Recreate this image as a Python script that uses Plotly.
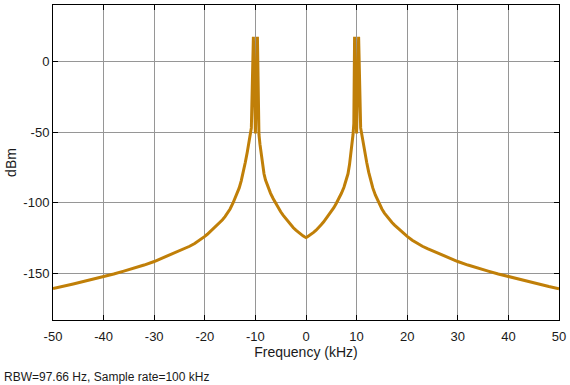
import plotly.graph_objects as go

# Frequency (kHz) and level (dBm), left half (-50 .. 0)
freq_left = [
    -50, -48, -46, -44, -42, -40, -38, -36, -34, -32, -30, -29, -28, -27, -26, -25,
    -24, -23, -22, -21, -20, -19.5, -19, -18.5, -18, -17.5, -17, -16.5, -16, -15.5,
    -15, -14.4, -13.7, -13.2, -12.8, -12.4, -12, -11.6, -11.3, -11, -10.8,
    -10.4, -10.0, -9.6,
    -9.45, -9.3, -9.1, -8.9, -8.6, -8.3, -8, -7.5, -7, -6.5, -6, -5.5, -5, -4.5,
    -4, -3.5, -3, -2.5, -2, -1.5, -1, -0.6, -0.3,
]
level_left = [
    -160.7, -159.3, -157.5, -155.8, -154.1, -152.3, -150.4, -148.4, -146.4, -144.1, -141.6, -140.1, -138.6, -137.1, -135.6, -134.1,
    -132.5, -130.8, -128.8, -126.5, -123.8, -122.3, -120.7, -119.1, -117.5, -115.8, -114.0, -112.0, -109.8, -107.3,
    -104.4, -100.0, -94.5, -89.5, -84.5, -78.5, -71.5, -64.0, -57.5, -51.5, -47.0,
    17.5, -51.0, 17.5,
    -44.0, -51.5, -58.5, -65.0, -73.0, -79.5, -84.0, -89.0, -93.3, -97.0, -100.3, -103.5, -106.4, -108.9,
    -111.2, -113.5, -115.6, -117.7, -119.4, -121.0, -122.4, -123.4, -124.1,
]

# Centre point
freq_mid = [0]
level_mid = [-124.6]

# Right half (0 .. 50)
freq_right = [
    0.3, 0.6, 1, 1.5, 2, 2.5, 3, 3.5, 4, 4.5, 5, 5.5, 6, 6.5, 7, 7.5, 8, 8.3, 8.6,
    8.9, 9.1, 9.3, 9.45,
    9.6, 10.0, 10.4,
    10.8, 11, 11.3, 11.6, 12, 12.4, 12.8, 13.2, 13.7, 14.4, 15, 15.5, 16, 16.5, 17,
    17.5, 18, 18.5, 19, 19.5, 20, 21, 22, 23, 24, 25, 26, 27, 28, 29, 30, 32, 34,
    36, 38, 40, 42, 44, 46, 48, 50,
]
level_right = [
    -124.1, -123.4, -122.4, -121.0, -119.4, -117.7, -115.6, -113.5, -111.2, -108.9, -106.4, -103.5, -100.3, -97.0, -93.3, -89.0, -84.0, -79.5, -73.0,
    -65.0, -58.5, -51.5, -44.0,
    17.5, -51.0, 17.5,
    -47.0, -51.5, -57.5, -64.0, -71.5, -78.5, -84.5, -89.5, -94.5, -100.0, -104.4, -107.3, -109.8, -112.0, -114.0,
    -115.8, -117.5, -119.1, -120.7, -122.3, -123.8, -126.5, -128.8, -130.8, -132.5, -134.1, -135.6, -137.1, -138.6, -140.1, -141.6, -144.1, -146.4,
    -148.4, -150.4, -152.3, -154.1, -155.8, -157.5, -159.3, -160.9,
]

x_ticks = [-50, -40, -30, -20, -10, 0, 10, 20, 30, 40, 50]
y_ticks = [-150, -100, -50, 0]

FONT = "Liberation Sans, Arial, sans-serif"

fig = go.Figure()
fig.add_trace(go.Scatter(
    x=freq_left + freq_mid + freq_right,
    y=level_left + level_mid + level_right,
    mode="lines",
    line=dict(color="rgb(192,127,8)", width=3),
    showlegend=False, hoverinfo="skip",
))

axis_common = dict(
    showline=True, linecolor="black", linewidth=1, mirror="ticks",
    ticks="inside", ticklen=5, tickcolor="black", tickwidth=1,
    showgrid=True, gridcolor="rgb(150,150,150)", gridwidth=1,
    zeroline=False,
    tickfont=dict(family=FONT, size=13, color="#1a1a1a"),
)

fig.update_xaxes(
    range=[-50, 50], tickvals=x_ticks, ticktext=[str(v) for v in x_ticks],
    ticklabelstandoff=4,
    title=dict(text="Frequency (kHz)", font=dict(family=FONT, size=14, color="#1a1a1a"), standoff=3),
    **axis_common,
)
fig.update_yaxes(
    range=[-183, 40], tickvals=y_ticks, ticktext=[str(v) for v in y_ticks],
    title=dict(text="dBm", font=dict(family=FONT, size=14, color="#1a1a1a"), standoff=3),
    **axis_common,
)

fig.add_annotation(
    text="RBW=97.66 Hz, Sample rate=100 kHz",
    xref="paper", yref="paper", x=-0.1, y=-0.181,
    xanchor="left", yanchor="middle", showarrow=False,
    font=dict(family=FONT, size=12, color="#1a1a1a"),
)

fig.update_layout(
    width=570, height=385,
    margin=dict(l=53, r=11, t=5, b=65),
    paper_bgcolor="white", plot_bgcolor="white",
)

fig.write_html(
    "out.html",
    config={"displayModeBar": False},
    post_script="document.body.style.margin='0';",
)
